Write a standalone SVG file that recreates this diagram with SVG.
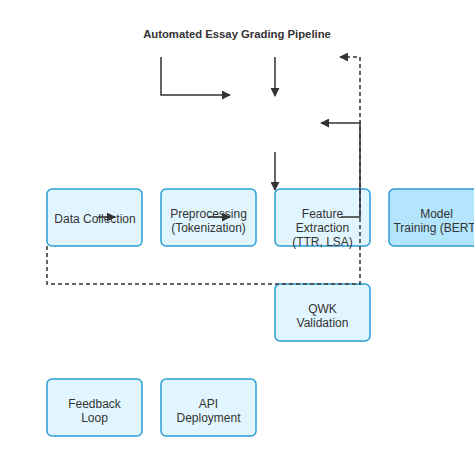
<svg xmlns="http://www.w3.org/2000/svg" width="474" height="474" viewBox="0 0 474 474">
<style>
.node{fill:#e1f5fe;stroke:#2a9fd6;stroke-width:1.5}
.hl{fill:#b3e5fc}
.lbl{font-family:"Liberation Sans",Arial,sans-serif;font-size:12px;fill:#333;text-anchor:middle}
.title{font-family:"Liberation Sans",Arial,sans-serif;font-size:11.3px;font-weight:bold;fill:#333;text-anchor:middle}
.edge{fill:none;stroke:#333;stroke-width:1.5}
.dash{stroke-dasharray:4,3}
</style>
<defs>
<marker id="ah" viewBox="0 0 10 10" refX="9" refY="5" markerWidth="6" markerHeight="6" orient="auto" markerUnits="strokeWidth">
<path d="M0,0 L10,5 L0,10 z" fill="#333"/>
</marker>
</defs>
<rect width="474" height="474" fill="#fff"/>
<text class="title" x="237" y="38">Automated Essay Grading Pipeline</text>
<g id="n-data"><rect class="node" x="47" y="189" width="95" height="57" rx="5"/><text class="lbl" x="95" y="223">Data Collection</text></g>
<g id="n-pre"><rect class="node" x="161" y="189" width="95" height="57" rx="5"/><text class="lbl" x="208.5" y="218">Preprocessing</text><text class="lbl" x="208.5" y="232">(Tokenization)</text></g>
<g id="n-feat"><rect class="node" x="275" y="189" width="95" height="57" rx="5"/><text class="lbl" x="322.5" y="218">Feature</text><text class="lbl" x="322.5" y="232">Extraction</text><text class="lbl" x="322.5" y="246">(TTR, LSA)</text></g>
<g id="n-model"><rect class="node hl" x="389" y="189" width="95" height="57" rx="5"/><text class="lbl" x="436.5" y="218">Model</text><text class="lbl" x="436.5" y="232">Training (BERT)</text></g>
<g id="n-qwk"><rect class="node" x="275" y="284" width="95" height="57" rx="5"/><text class="lbl" x="322.5" y="313">QWK</text><text class="lbl" x="322.5" y="327">Validation</text></g>
<g id="n-fb"><rect class="node" x="47" y="379" width="95" height="57" rx="5"/><text class="lbl" x="94.5" y="408">Feedback</text><text class="lbl" x="94.5" y="422">Loop</text></g>
<g id="n-api"><rect class="node" x="161" y="379" width="95" height="57" rx="5"/><text class="lbl" x="208.5" y="408">API</text><text class="lbl" x="208.5" y="422">Deployment</text></g>
<g id="connectors">
<path class="edge" d="M161,57 V95 H230" marker-end="url(#ah)"/>
<path class="edge" d="M275,57 V96" marker-end="url(#ah)"/>
<path class="edge" d="M275,152 V190" marker-end="url(#ah)"/>
<path class="edge" d="M341,217 H360 V123 H321" marker-end="url(#ah)"/>
<path class="edge dash" d="M47,246 V284 H360 V57 H340" marker-end="url(#ah)"/>
<path class="edge" d="M98,217 H115" marker-end="url(#ah)"/>
<path class="edge" d="M208,217 H230" marker-end="url(#ah)"/>
</g>
</svg>
